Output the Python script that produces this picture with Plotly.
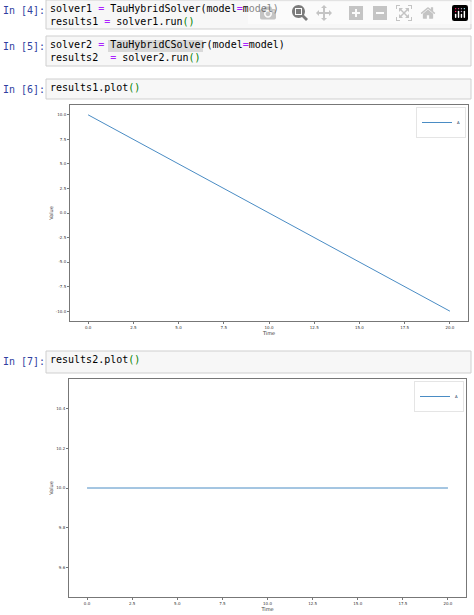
import plotly.graph_objects as go

W, H = 474, 615

# data
time1 = [0, 2.5, 5, 7.5, 10, 12.5, 15, 17.5, 20]
value1 = [10, 7.5, 5, 2.5, 0, -2.5, -5, -7.5, -10]
time2 = [0, 2.5, 5, 7.5, 10, 12.5, 15, 17.5, 20]
value2 = [10, 10, 10, 10, 10, 10, 10, 10, 10]
xticks = [0, 2.5, 5, 7.5, 10, 12.5, 15, 17.5, 20]
yticks1 = [-10, -7.5, -5, -2.5, 0, 2.5, 5, 7.5, 10]
yticks2 = [9.6, 9.8, 10.0, 10.2, 10.4]


def px(x):
    return x / W


def py(y):
    return 1 - y / H


BLUE = "#4a8cc4"
EQ = "<span style='color:#aa22ff'>=</span>"
PAR = "<span style='color:#008000'>()</span>"

fig = go.Figure()
fig.add_trace(go.Scatter(x=time1, y=value1, mode="lines", name="A",
                         line=dict(color=BLUE, width=1), xaxis="x", yaxis="y", legend="legend"))
fig.add_trace(go.Scatter(x=time2, y=value2, mode="lines", name="A",
                         line=dict(color=BLUE, width=1), xaxis="x2", yaxis="y2", legend="legend2"))

tickfont = dict(family="DejaVu Sans", size=4, color="#333")
axis_common = dict(showgrid=False, zeroline=False, showline=True, mirror=True,
                   linecolor="#777", linewidth=1, ticks="outside", ticklen=2,
                   tickcolor="#777", tickfont=tickfont)
title_font = dict(family="DejaVu Sans", size=5, color="#333")

fig.update_layout(
    width=W, height=H, margin=dict(l=0, r=0, t=0, b=0),
    paper_bgcolor="white", plot_bgcolor="white",
    xaxis=dict(domain=[px(70), px(468)], range=[-1, 21], tickvals=xticks,
               ticktext=[f"{v:.1f}" for v in xticks], anchor="y",
               title=dict(text="Time", font=title_font, standoff=1), **axis_common),
    yaxis=dict(domain=[py(321), py(105)], range=[-11, 11], tickvals=yticks1,
               ticktext=[f"{v:.1f}" for v in yticks1], anchor="x",
               title=dict(text="Value", font=title_font, standoff=2), **axis_common),
    xaxis2=dict(domain=[px(69), px(466)], range=[-1, 21], tickvals=xticks,
                ticktext=[f"{v:.1f}" for v in xticks], anchor="y2",
                title=dict(text="Time", font=title_font, standoff=1), **axis_common),
    yaxis2=dict(domain=[py(597), py(379)], range=[9.45, 10.55], tickvals=yticks2,
                ticktext=[f"{v:.1f}" for v in yticks2], anchor="x2",
                title=dict(text="Value", font=title_font, standoff=2), **axis_common),
    legend=dict(x=px(466), y=py(107), xanchor="right", yanchor="top", itemwidth=30,
                font=dict(size=4), bgcolor="white", bordercolor="#e5e5e5", borderwidth=1),
    legend2=dict(x=px(464), y=py(381), xanchor="right", yanchor="top", itemwidth=30,
                 font=dict(size=4), bgcolor="white", bordercolor="#e5e5e5", borderwidth=1),
    showlegend=True,
)

# notebook cells
cells = [
    ("In [4]:", 0, 29, [f"solver1 {EQ} TauHybridSolver(model{EQ}model)",
                        f"results1 {EQ} solver1.run{PAR}"]),
    ("In [5]:", 36, 66, [f"solver2 {EQ} TauHybridCSolver(model{EQ}model)",
                         f"results2  {EQ} solver2.run{PAR}"]),
    ("In [6]:", 79, 99, [f"results1.plot{PAR}"]),
    ("In [7]:", 351, 373, [f"results2.plot{PAR}"]),
]
shapes = []
annotations = []
mono = dict(family="DejaVu Sans Mono", size=10, color="#000")
for prompt, y0, y1, lines in cells:
    shapes.append(dict(type="rect", xref="paper", yref="paper",
                       x0=px(46), x1=px(471), y0=py(y1), y1=py(y0),
                       fillcolor="#f7f7f7", line=dict(color="#cfcfcf", width=1), layer="below"))
    annotations.append(dict(text=prompt, x=px(1), y=py(y0 + 3), xref="paper", yref="paper",
                            xanchor="left", yanchor="top", showarrow=False,
                            font=dict(family="DejaVu Sans Mono", size=10, color="#303f9f")))
    annotations.append(dict(text="<br>".join(lines), x=px(48), y=py(y0 + 1), xref="paper",
                            yref="paper", xanchor="left", yanchor="top", showarrow=False,
                            align="left", font=mono))

# highlighted selection on TauHybridCSolver
shapes.append(dict(type="rect", xref="paper", yref="paper",
                   x0=px(108), x1=px(203), y0=py(52), y1=py(40),
                   fillcolor="#d9d9d9", line=dict(width=0), layer="below"))

fig.update_layout(shapes=shapes, annotations=annotations)
fig.write_html("out.html", post_script="document.body.style.margin='0';")
